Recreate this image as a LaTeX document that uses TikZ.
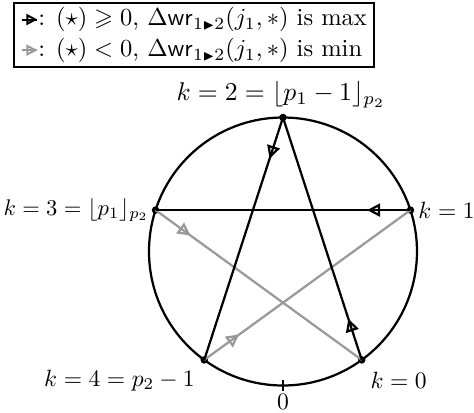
\documentclass[tikz,border=0pt]{standalone}
\usepackage{amsmath,amssymb}
\usetikzlibrary{arrows.meta,decorations.markings}
\tikzset{
  edge/.style={line width=0.95pt},
  blk/.style={edge,black,postaction={decorate},decoration={markings,mark=at position 0.17 with {\arrow{Triangle[open,length=5.5pt,width=5.5pt]}}}},
  gry/.style={edge,black!40,postaction={decorate},decoration={markings,mark=at position 0.17 with {\arrow{Triangle[open,length=5.5pt,width=5.5pt]}}}},
  vdot/.style={circle,fill=black,inner sep=0pt,minimum size=3.2pt},
  lbl/.style={inner sep=0pt},
}
\newcommand{\legarrow}[1]{\tikz[baseline=-0.6ex]\draw[line width=0.8pt,#1,postaction={decorate},decoration={markings,mark=at position 1 with {\arrow{Triangle[open,length=4.5pt,width=4.5pt]}}}] (0,0) -- (0.22,0);}
\newcommand{\wrsub}{\Delta\mathsf{wr}_{1\scalebox{0.6}{$\blacktriangleright$}2}}
\begin{document}
\begin{tikzpicture}
\useasboundingbox (-4.224,-2.396) rectangle (2.851,3.754);
\draw[line width=0.95pt] (0,0) circle (2);
\node[vdot] (v0) at (306:2) {};
\node[vdot] (v1) at (18:2) {};
\node[vdot] (v2) at (90:2) {};
\node[vdot] (v3) at (162:2) {};
\node[vdot] (v4) at (234:2) {};
\coordinate (t1) at (0,-1.92);
\coordinate (t2) at (0,-2.08);
\draw[line width=0.95pt] (t1) -- (t2);
\draw[gry] (v3.center) -- (v0.center);
\draw[gry] (v4.center) -- (v1.center);
\draw[blk] (v2.center) -- (v4.center);
\draw[blk] (v0.center) -- (v2.center);
\draw[blk] (v1.center) -- (v3.center);
\node[lbl] (l2) at (-0.03,2.336) {\scalebox{1.09}{$k=2=\lfloor p_1-1\rfloor_{p_2}$}};
\node[lbl,anchor=east] (l3) at (-2.0,0.62) {\scalebox{0.96}{$k=3=\lfloor p_1\rfloor_{p_2}$}};
\node[lbl,anchor=west] (l1) at (2.015,0.62) {$k=1$};
\node[lbl,anchor=east] (l4) at (-1.31,-1.92) {$k=4=p_2-1$};
\node[lbl,anchor=west] (l0) at (1.30,-1.92) {$k=0$};
\node[lbl] (z) at (0,-2.25) {$0$};
\node[draw,line width=0.95pt,align=left,anchor=west,minimum height=0.955cm,inner xsep=3pt,inner ysep=2pt] (leg) at (-4.03,3.231)
 {\scalebox{1.04}{\legarrow{black}: $(\star)\geqslant 0$, $\wrsub(j_1,*)$ is max}\\[1pt]
  \scalebox{1.04}{\legarrow{black!40}: $(\star)< 0$, $\wrsub(j_1,*)$ is min}};
\end{tikzpicture}
\end{document}
